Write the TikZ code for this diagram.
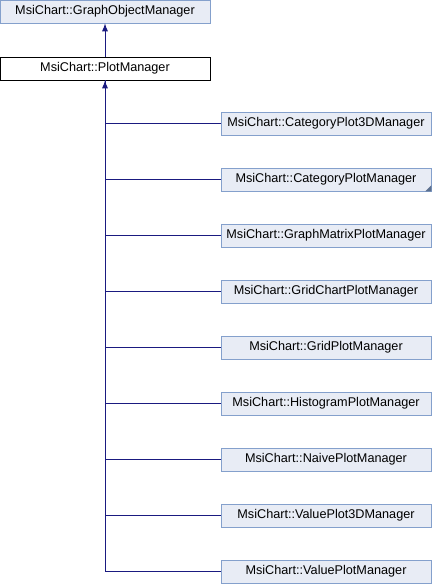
\documentclass[tikz,border=0pt]{standalone}
\usepackage{fontspec}
\setmainfont{Liberation Sans}
\usepackage{xcolor}
\usepackage{tikz}
\usetikzlibrary{
  arrows.meta,
  calc
}
\definecolor{boxfill}{HTML}{E8ECF5}
\definecolor{boxline}{HTML}{84A0CC}
\definecolor{edgeblue}{HTML}{1A1A80}
\tikzset{
  classbox/.style={
    draw=boxline,
    fill=boxfill,
    minimum width=210*0.75pt,
    minimum height=23*0.75pt,
    inner sep=0pt,
    font=\fontsize{9.5}{11}\selectfont},
  mainbox/.style={
    classbox,
    draw=black,
    fill=white},
  edge/.style={
    draw=edgeblue,
    line width=0.75pt}
  }

\begin{document}
\begin{tikzpicture}[x=0.75pt,y=-0.75pt]
      \useasboundingbox (0,0) rectangle (432,584);
      \node [classbox] (base) at (105,11.5) {MsiChart::GraphObjectManager};
      \node [mainbox] (mgr) at (105,68.5) {MsiChart::PlotManager};
      \foreach \name [count=\i] in {CategoryPlot3DManager,CategoryPlotManager,
          GraphMatrixPlotManager,GridChartPlotManager,GridPlotManager,
          HistogramPlotManager,NaivePlotManager,ValuePlot3DManager,
          ValuePlotManager}
        \node [classbox] (c\i) at (326,{123.5+56*(\i-1)}) {MsiChart::\name};
      % corner mark on the class with more children
      \fill [boxline!70!black] (c2.south east) -- ++(-6,0) -- ++(6,-6) -- cycle;
      \draw [edge, -{Latex[length=6pt,width=4.5pt]}] (mgr.north) to (base.south);
      \foreach \i in {1,...,9}
        \draw [edge] (c\i.west) -| (mgr.south);
      \draw [edge, -{Latex[length=6pt,width=4.5pt]}] (c1.west) -| (mgr.south);
    \end{tikzpicture}
\end{document}
